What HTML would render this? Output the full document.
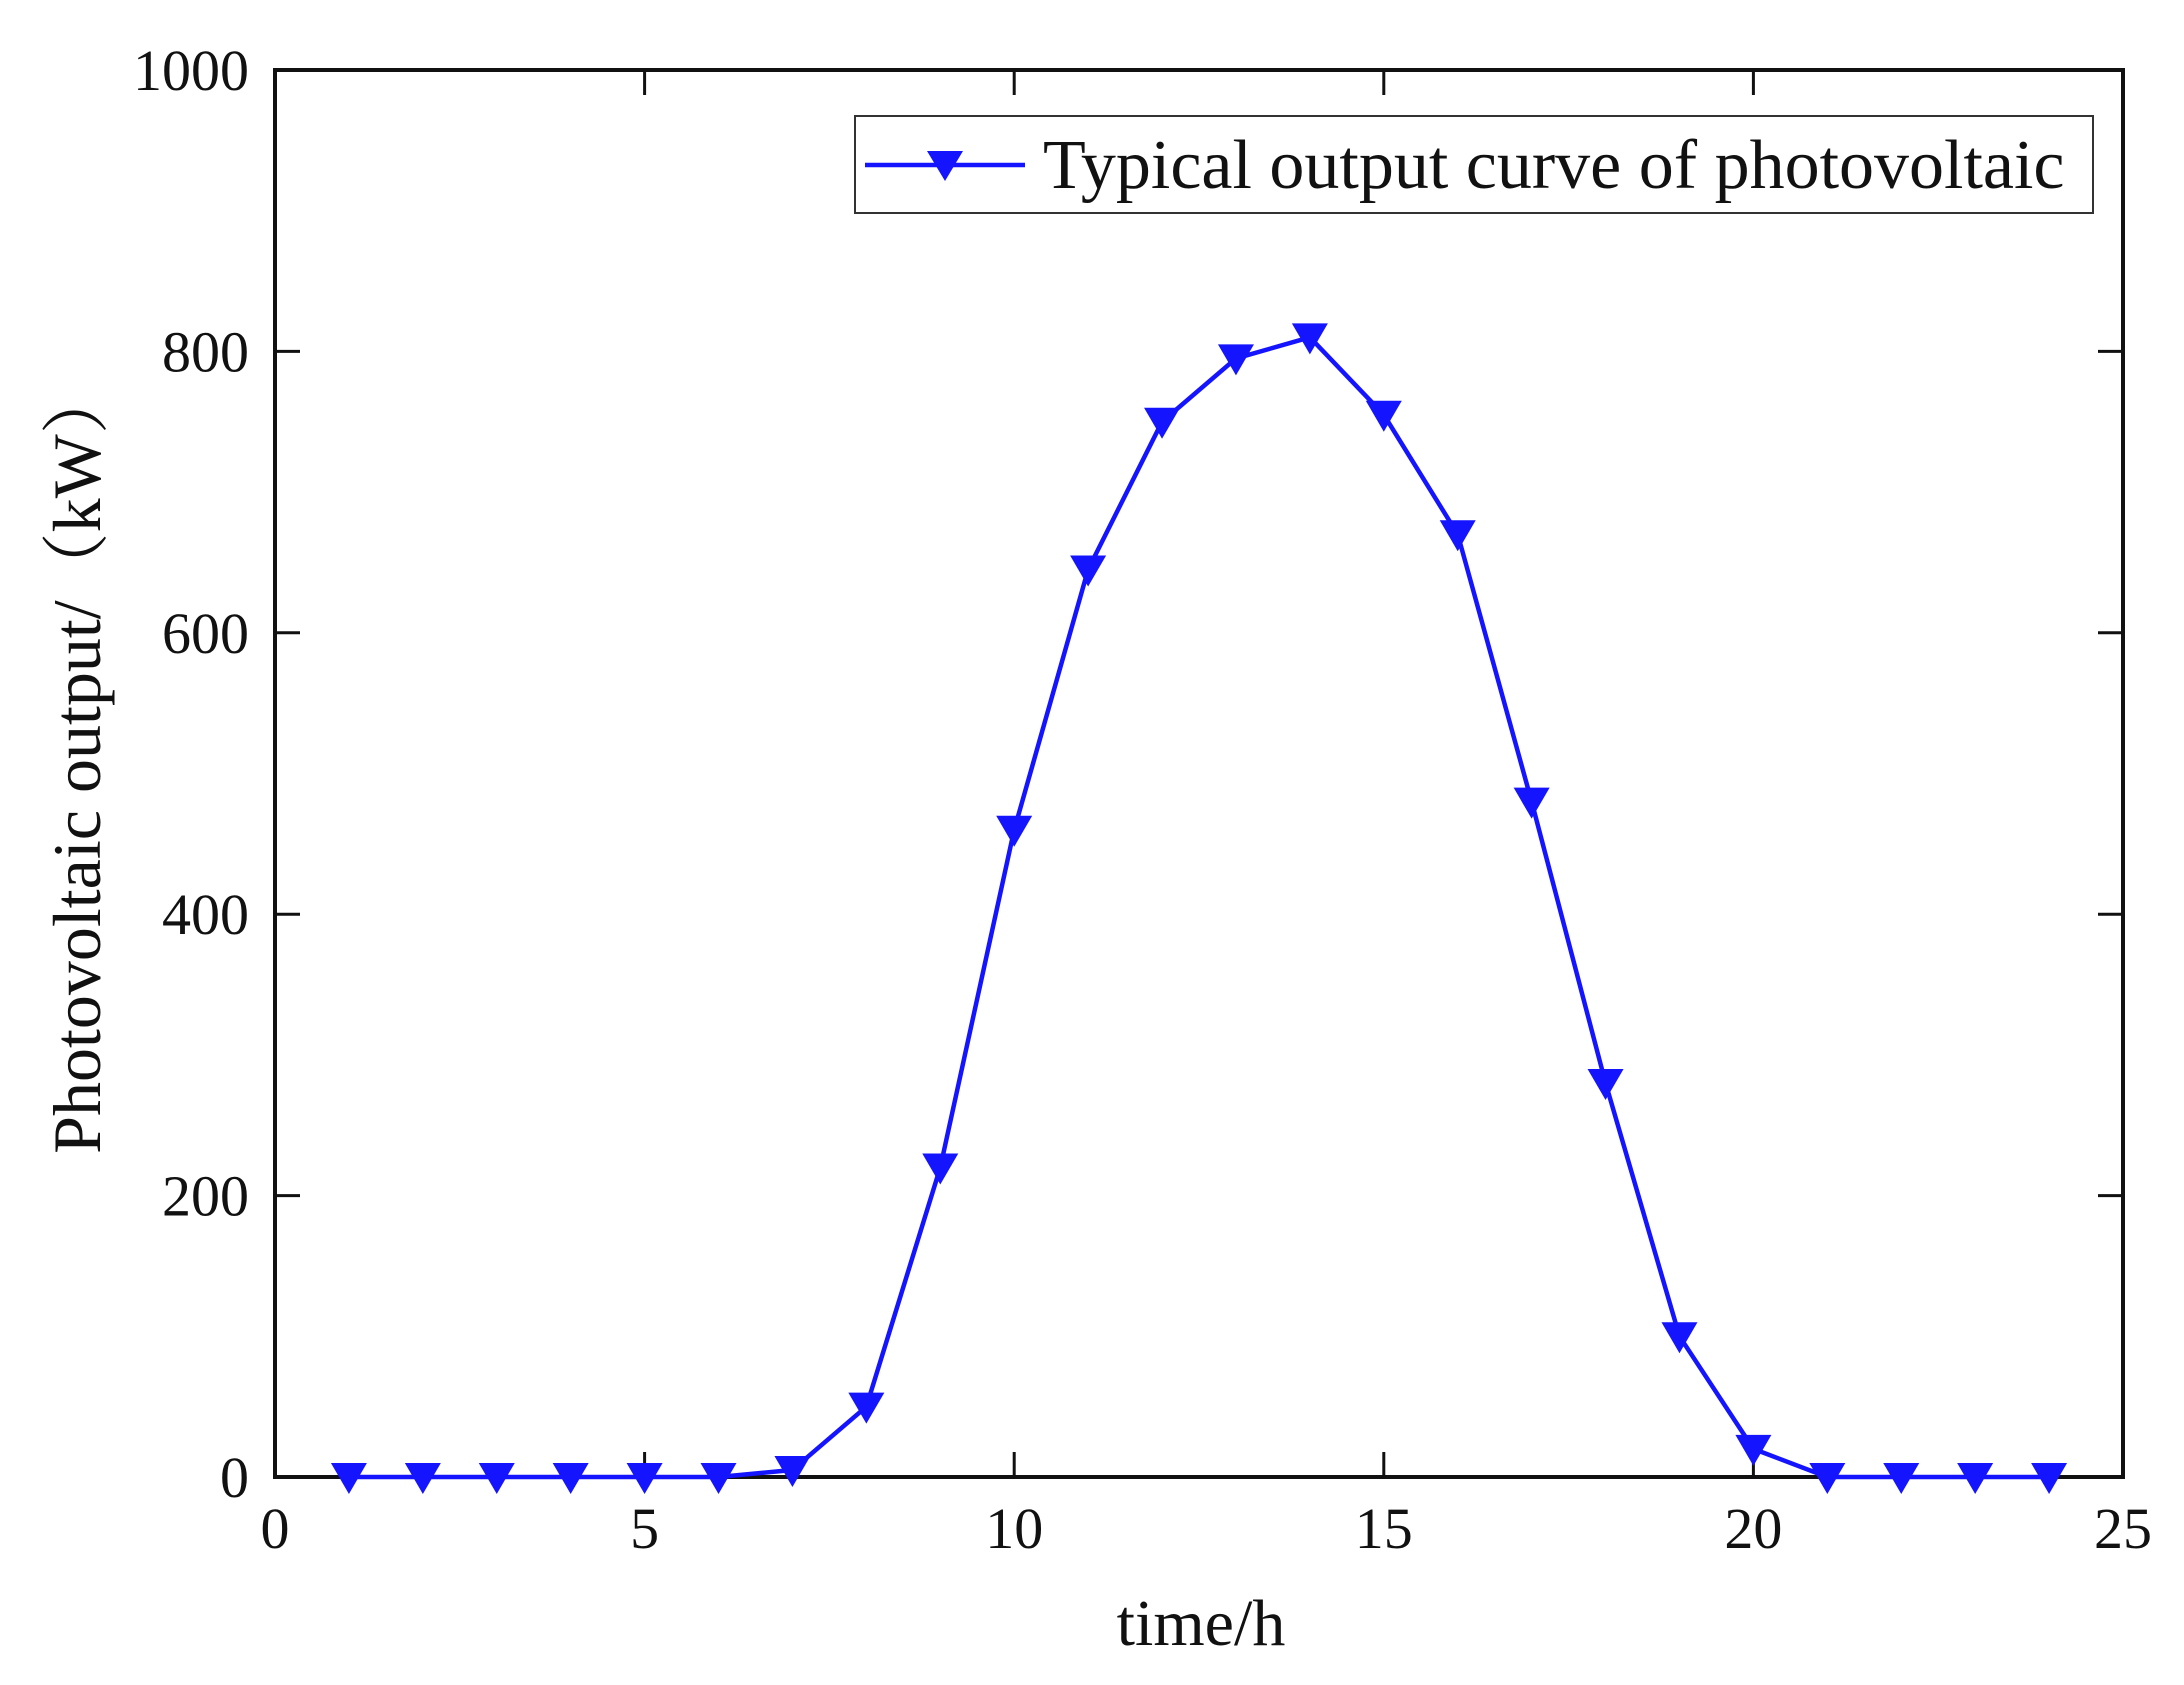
<!DOCTYPE html>
<html><head><meta charset="utf-8"><style>
html,body{margin:0;padding:0;background:#fff;}
svg{display:block;}
text{font-family:"Liberation Serif","Noto Serif CJK SC",serif;fill:#111;}
</style></head><body>
<svg id="chart" width="2184" height="1685" viewBox="0 0 2184 1685" xmlns="http://www.w3.org/2000/svg">
<g id="axes"></g>
<g id="series"></g>
<g>
  <rect x="855" y="116" width="1238" height="97" fill="#fff" stroke="#333" stroke-width="2"/>
  <line x1="865" y1="165" x2="1025" y2="165" stroke="#1414ff" stroke-width="4.5"/>
  <path d="M927,151 L963,151 L945,181 Z" fill="#1414ff"/>
  <text x="1043" y="188" font-size="70">Typical output curve of photovoltaic</text>
</g>
<text x="1201" y="1645" font-size="66" text-anchor="middle">time/h</text>
<text transform="translate(100,760) rotate(-90)" font-size="68" text-anchor="middle">Photovoltaic output/（kW）</text>
</svg>
<script>
const hours = [1,2,3,4,5,6,7,8,9,10,11,12,13,14,15,16,17,18,19,20,21,22,23,24];
const output = [0,0,0,0,0,0,5,50,220,460,645,750,795,810,755,670,480,280,100,20,0,0,0,0];
const xTicks = [0,5,10,15,20,25];
const yTicks = [0,200,400,600,800,1000];

const L=275,R=2123,T=70,B=1477;
const xs=v=>L+(v-0)/(25-0)*(R-L);
const ys=v=>B-(v-0)/(1000-0)*(B-T);
const NS="http://www.w3.org/2000/svg";
function mk(tag,attrs,parent){const e=document.createElementNS(NS,tag);for(const k in attrs)e.setAttribute(k,attrs[k]);parent.appendChild(e);return e;}
const axes=document.getElementById('axes');
const series=document.getElementById('series');

const frame=mk('rect',{x:L,y:T,width:R-L,height:B-T,fill:'none',stroke:'#111','stroke-width':4},axes);



xTicks.forEach(t=>{
  const x=xs(t);
  if(t>0&&t<25){
    const a=mk('line',{x1:x,y1:B,x2:x,y2:B-25,stroke:'#111','stroke-width':3},axes);
    
    
    const b=mk('line',{x1:x,y1:T,x2:x,y2:T+25,stroke:'#111','stroke-width':3},axes);
    
    
  }
  const lb=mk('text',{x:x,y:1548,'font-size':58,'text-anchor':'middle'},axes);
  lb.textContent=t;
  
  
});
yTicks.forEach(t=>{
  const y=ys(t);
  if(t>0&&t<1000){
    const a=mk('line',{x1:L,y1:y,x2:L+25,y2:y,stroke:'#111','stroke-width':3},axes);
    
    
    const b=mk('line',{x1:R,y1:y,x2:R-25,y2:y,stroke:'#111','stroke-width':3},axes);
    
    
  }
  const lb=mk('text',{x:249,y:y+20,'font-size':58,'text-anchor':'end'},axes);
  lb.textContent=t;
  
  
});

const pts=hours.map((h,i)=>xs(h)+','+ys(output[i])).join(' ');
const line=mk('polyline',{points:pts,fill:'none',stroke:'#1414ff','stroke-width':4.5,'stroke-linejoin':'round'},series);


hours.forEach((h,i)=>{
  const x=xs(h),y=ys(output[i]);
  const m=mk('path',{d:`M${x-18},${y-14} L${x+18},${y-14} L${x},${y+17} Z`,fill:'#1414ff'},series);
  
  
});
</script>
</body></html>
